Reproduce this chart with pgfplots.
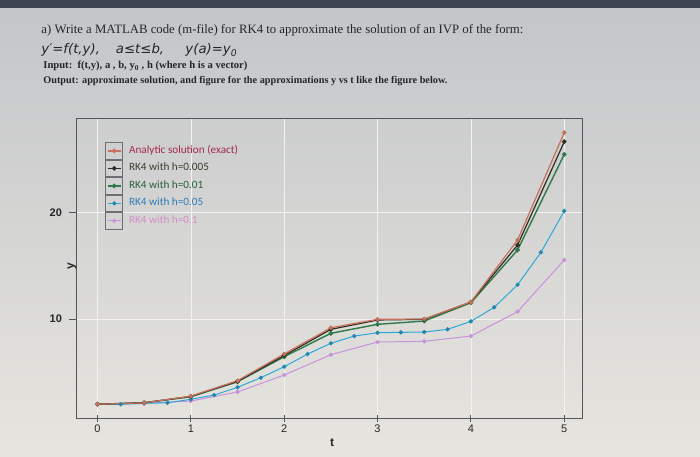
\documentclass[border=0pt]{standalone}
\usepackage{pgfplots}
\pgfplotsset{compat=1.18}
\usepackage{fontspec}
\setmainfont{Liberation Serif}
\setsansfont{Liberation Sans}
\newfontfamily\legfont{Carlito}
\newfontfamily\symfont{DejaVu Sans}

\definecolor{bgtop}{HTML}{C3C5C8}
\definecolor{bgbot}{HTML}{E7E5DF}
\definecolor{band}{HTML}{3E4452}
\definecolor{framec}{HTML}{55555E}
\definecolor{textc}{HTML}{262628}
\definecolor{exactc}{HTML}{C8705E}
\definecolor{exacttxt}{HTML}{A32A4C}
\definecolor{hA}{HTML}{2E2E22}
\definecolor{hAtxt}{HTML}{3C3C2C}
\definecolor{hB}{HTML}{2F7A4A}
\definecolor{hBtxt}{HTML}{25603A}
\definecolor{hC}{HTML}{2CA8D8}
\definecolor{hCtxt}{HTML}{2A7CB8}
\definecolor{hD}{HTML}{C892DC}
\definecolor{hDtxt}{HTML}{D48CC8}

% t, y
\pgfplotstableread{
t y
0 2.00
0.5 2.13
1 2.76
1.5 4.21
2 6.72
2.5 9.18
3 9.97
3.5 10.00
4 11.60
4.5 17.42
5 27.50
}\exact
\pgfplotstableread{
t y
0 2.00
0.5 2.14
1 2.74
1.5 4.15
2 6.57
2.5 9.03
3 9.91
3.5 9.97
4 11.60
4.5 16.95
5 26.65
}\hfive
\pgfplotstableread{
t y
0 2.00
0.5 2.14
1 2.70
1.5 4.11
2 6.46
2.5 8.66
3 9.50
3.5 9.81
4 11.53
4.5 16.48
5 25.46
}\hten
\pgfplotstableread{
t y
0 2.00
0.25 1.99
0.5 2.08
0.75 2.14
1 2.46
1.25 2.86
1.5 3.59
1.75 4.49
2 5.52
2.25 6.71
2.5 7.72
2.75 8.40
3 8.71
3.25 8.75
3.5 8.78
3.75 9.03
4 9.78
4.25 11.10
4.5 13.22
4.75 16.26
5 20.14
}\hfifty
\pgfplotstableread{
t y
0 2.00
0.5 2.08
1 2.30
1.5 3.15
2 4.74
2.5 6.65
3 7.84
3.5 7.91
4 8.40
4.5 10.69
5 15.54
}\hhundred

\begin{document}
\begin{tikzpicture}
\shade[top color=bgtop, bottom color=bgbot] (0pt,0pt) rectangle (350pt,228pt);
\fill[band] (0pt,224pt) rectangle (350pt,228pt);

\node[anchor=base west, inner sep=0pt, text=textc] at (20.5pt,211pt)
  {\resizebox{241pt}{!}{a) Write a MATLAB code (m-file) for RK4 to approximate the solution of an IVP of the form:}};
\node[anchor=base west, inner sep=0pt, text=textc] at (20.5pt,201pt)
  {\resizebox{98pt}{!}{\symfont\itshape y′=f(t,y),\hspace{1.2em}a≤t≤b,\hspace{1.6em}y(a)=y\textsubscript{0}}};
\node[anchor=base west, inner sep=0pt, text=textc] at (21.5pt,193.5pt)
  {\resizebox{102pt}{!}{\bfseries Input:\ \ f(t,y), a , b, y\textsubscript{0} , h (where h is a vector)}};
\node[anchor=base west, inner sep=0pt, text=textc] at (21.5pt,186pt)
  {\resizebox{202pt}{!}{\bfseries Output: approximate solution, and figure for the approximations y vs t like the figure below.}};

\begin{axis}[
  at={(38pt,18.75pt)}, anchor=south west,
  scale only axis, width=253pt, height=149.75pt,
  xmin=-0.23, xmax=5.19, ymin=0.66, ymax=28.78,
  xtick={0,1,2,3,4,5}, ytick={10,20},
  tick pos=left,
  xtick align=center, ytick align=outside,
  major tick length=3.5pt,
  axis line style={framec, line width=0.5pt},
  tick style={framec, line width=0.5pt},
  grid=major, major grid style={draw=black!5, line width=0.3pt},
  /pgf/number format/assume math mode=true,
  xticklabel style={font=\sffamily\fontsize{5.5}{6}\selectfont, text=textc, yshift=2.3pt},
  yticklabel style={font=\sffamily\bfseries\fontsize{5.5}{6}\selectfont, text=textc},
  xlabel={t}, ylabel={y},
  xlabel style={at={(axis description cs:0.506,-0.082)}, anchor=center,
    font=\sffamily\bfseries\fontsize{6}{7}\selectfont, text=textc},
  ylabel style={at={(axis description cs:-0.008,0.51)}, anchor=center,
    font=\sffamily\bfseries\fontsize{6}{7}\selectfont, text=textc},
  every axis plot/.append style={mark=*, mark size=0.8pt, line width=0.5pt},
  reverse legend,
  legend style={at={(0.0573,0.924)}, anchor=north west, draw=none, fill=none,
    inner sep=0pt, row sep=0pt, column sep=3pt,
    font=\legfont\fontsize{5.6}{6.5}\selectfont,
    nodes={inner sep=0pt, minimum height=8.4pt}},
  legend cell align=left,
  legend image code/.code={
    \draw[framec!85, line width=0.35pt, fill=none] (0pt,-4.2pt) rectangle (8.5pt,4.2pt);
    \draw[mark repeat=2, mark phase=2, #1] plot coordinates {(1pt,0pt)(4.25pt,0pt)(7.5pt,0pt)};
  },
]
\addplot[hD, mark options={fill=hD, draw=hD}] table {\hhundred};
\addplot[hC, mark options={fill=hC!80!black, draw=hC!80!black}] table {\hfifty};
\addplot[hB, line width=0.7pt, mark options={fill=hB, draw=hB}] table {\hten};
\addplot[hA, line width=0.6pt, mark options={fill=hA, draw=hA}] table {\hfive};
\addplot[exactc, line width=0.6pt, mark options={fill=exactc, draw=exactc}] table {\exact};
\legend{\textcolor{hDtxt}{RK4 with h=0.1}, \textcolor{hCtxt}{RK4 with h=0.05},
  \textcolor{hBtxt}{RK4 with h=0.01}, \textcolor{hAtxt}{RK4 with h=0.005},
  \textcolor{exacttxt}{Analytic solution (exact)}}
\end{axis}
\pgfresetboundingbox
\useasboundingbox (0pt,0pt) rectangle (350pt,228pt);
\end{tikzpicture}
\end{document}
